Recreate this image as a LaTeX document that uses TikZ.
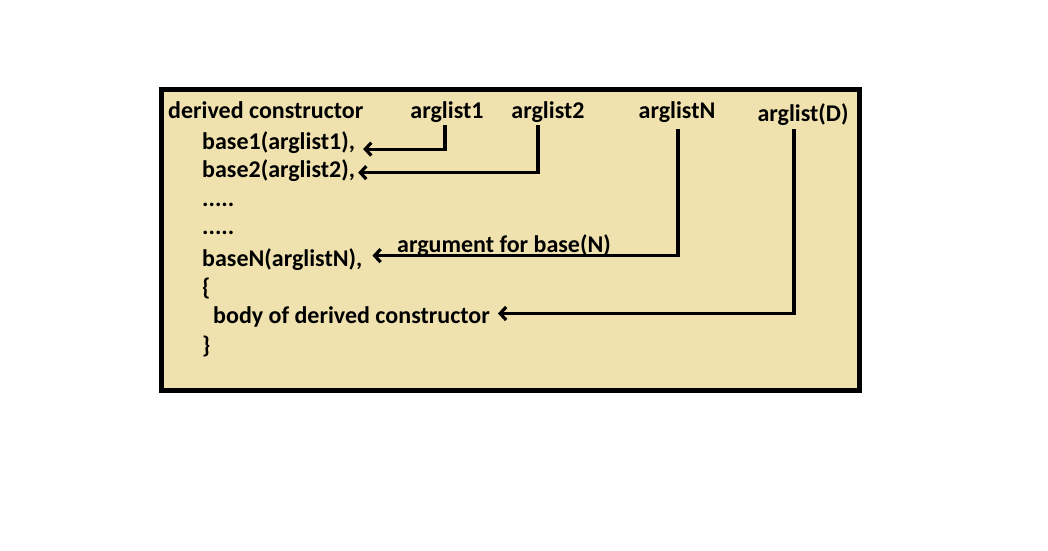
\documentclass[tikz,border=0pt]{standalone}
\usepackage{fontspec}
\setmainfont{Carlito}
\usetikzlibrary{arrows.meta}
\definecolor{box_fill}{RGB}{240,226,174}
\tikzstyle{frame}=[draw=black,fill=box_fill,line width=5pt]
\tikzstyle{code}=[anchor=base west,inner sep=0pt,
  font=\bfseries\fontsize{24}{28}\selectfont]
\tikzstyle{arg}=[anchor=base,inner sep=0pt,outer sep=0pt,
  font=\bfseries\fontsize{24}{28}\selectfont]
\tikzstyle{link}=[line width=3.2pt,{Straight Barb[length=6pt,width=13pt]}-]

\begin{document}
\begin{tikzpicture}[x=1pt,y=-1pt]
        \useasboundingbox (0,0) rectangle (1048,550);
        \draw [style=frame] (161.5,89.5) rectangle (859,390);
        % code lines
        \node [style=code] (0) at (168,118) {derived constructor};
        \node [style=code] (1) at (202,149) {base1(arglist1),};
        \node [style=code] (2) at (202,177) {base2(arglist2),};
        \node [style=code] (3) at (202,206) {.....};
        \node [style=code] (4) at (202,234) {.....};
        \node [style=code] (5) at (202,266) {baseN(arglistN),};
        \node [style=code] (6) at (202,295) {\{};
        \node [style=code] (7) at (213,323) {body of derived constructor};
        \node [style=code] (8) at (202,353) {\}};
        \node [style=code] (9) at (397,252) {argument for base(N)};
        % argument lists
        \node [style=arg] (10) at (447,118) {arglist1};
        \node [style=arg] (11) at (548,118) {arglist2};
        \node [style=arg] (12) at (677,118) {arglistN};
        \node [style=arg] (13) at (803,121) {arglist(D)};
        \coordinate (14) at (445,125);
        \coordinate (15) at (538,125);
        \coordinate (16) at (678,129);
        \coordinate (17) at (794,129);
        \draw [style=link] ([xshift=8pt,yshift=-7pt]1.east) -| (14);
        \draw [style=link] ([xshift=3pt,yshift=-2.5pt]2.east) -| (15);
        \draw [style=link] ([xshift=10pt,yshift=3.5pt]5.east) -| (16);
        \draw [style=link] ([xshift=8pt,yshift=3pt]7.east) -| (17);
    \end{tikzpicture}
\end{document}
